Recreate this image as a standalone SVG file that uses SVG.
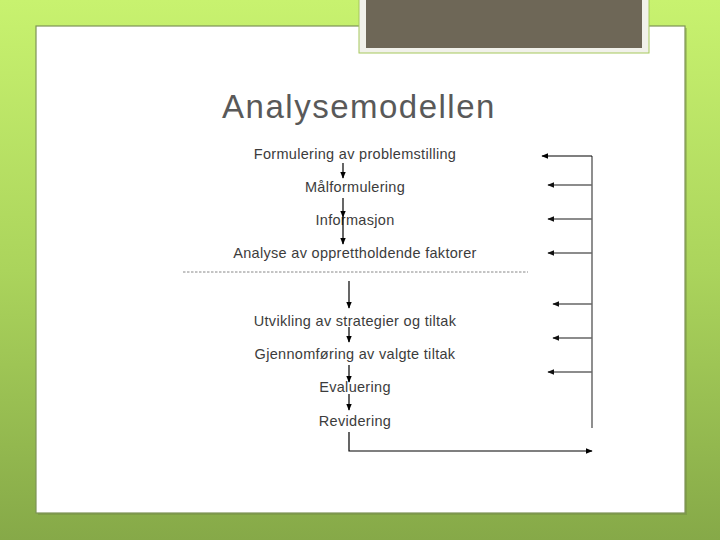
<svg xmlns="http://www.w3.org/2000/svg" width="720" height="540" viewBox="0 0 720 540">
<defs>
<linearGradient id="bg" x1="0" y1="0" x2="0" y2="1">
<stop offset="0" stop-color="#c8f26f"/>
<stop offset="0.5" stop-color="#abd45c"/>
<stop offset="1" stop-color="#86a948"/>
</linearGradient>
<marker id="ah" viewBox="0 0 10 10" refX="9" refY="5" markerWidth="7" markerHeight="7" markerUnits="userSpaceOnUse" orient="auto">
<path d="M0,1 L10,5 L0,9 z" fill="#000"/>
</marker>
<marker id="ahg" viewBox="0 0 10 10" refX="9" refY="5" markerWidth="7" markerHeight="7" markerUnits="userSpaceOnUse" orient="auto">
<path d="M0,1 L10,5 L0,9 z" fill="#111"/>
</marker>
</defs>
<style>
.t{font-family:"Liberation Sans",Arial,sans-serif;font-size:14.5px;letter-spacing:0.3px;fill:#3c3c3c;text-anchor:middle}
.title{font-family:"Liberation Sans",Arial,sans-serif;font-size:33px;letter-spacing:1.5px;fill:#595959;text-anchor:middle}
.fl{stroke:#000;stroke-width:1.2;fill:none}
.fb{stroke:#666;stroke-width:1.6;fill:none}
</style>
<rect x="0" y="0" width="720" height="540" fill="url(#bg)"/>
<rect x="38" y="28" width="649" height="487" fill="#6b8040" opacity="0.35"/>
<rect x="36" y="26" width="649" height="487" fill="#fff" stroke="#7d9356" stroke-width="1.2"/>
<g id="header-box">
<rect x="359" y="-2" width="290" height="55" fill="#f1f1ea" stroke="#a6c85c" stroke-width="1"/>
<rect x="366" y="-2" width="276" height="50" fill="#6e6757"/>
</g>
<g id="title"><text class="title" x="359" y="118">Analysemodellen</text></g>
<g id="n1"><text class="t" x="355" y="159">Formulering av problemstilling</text></g>
<g id="n2"><text class="t" x="355" y="192">Målformulering</text></g>
<g id="n3"><text class="t" x="355" y="225">Informasjon</text></g>
<g id="n4"><text class="t" x="355" y="258">Analyse av opprettholdende faktorer</text></g>
<g id="divider"><line x1="183" y1="272" x2="528" y2="272" stroke="#888" stroke-width="1" stroke-dasharray="2.5,1.5"/></g>
<g id="n5"><text class="t" x="355" y="326">Utvikling av strategier og tiltak</text></g>
<g id="n6"><text class="t" x="355" y="359">Gjennomføring av valgte tiltak</text></g>
<g id="n7"><text class="t" x="355" y="392">Evaluering</text></g>
<g id="n8"><text class="t" x="355" y="426">Revidering</text></g>
<g id="connectors">
<line class="fl" x1="343" y1="163" x2="343" y2="178" marker-end="url(#ah)"/>
<line class="fl" x1="343" y1="198" x2="343" y2="217" marker-end="url(#ah)"/>
<line class="fl" x1="343" y1="217" x2="343" y2="244" marker-end="url(#ah)"/>
<line class="fl" x1="349" y1="281" x2="349" y2="308" marker-end="url(#ah)"/>
<line class="fl" x1="349" y1="327" x2="349" y2="342" marker-end="url(#ah)"/>
<line class="fl" x1="349" y1="365" x2="349" y2="382" marker-end="url(#ah)"/>
<line class="fl" x1="349" y1="394" x2="349" y2="410" marker-end="url(#ah)"/>
<polyline class="fl" points="349,432 349,451 592,451" marker-end="url(#ah)"/>
<line x1="592" y1="156" x2="592" y2="428" stroke="#444" stroke-width="1.2"/>
<line class="fl" x1="592" y1="156" x2="542" y2="156" marker-end="url(#ah)"/>
<line class="fb" x1="592" y1="185" x2="548" y2="185" marker-end="url(#ahg)"/>
<line class="fb" x1="592" y1="219" x2="548" y2="219" marker-end="url(#ahg)"/>
<line class="fb" x1="592" y1="253" x2="548" y2="253" marker-end="url(#ahg)"/>
<line class="fb" x1="592" y1="304" x2="553" y2="304" marker-end="url(#ahg)"/>
<line class="fb" x1="592" y1="338" x2="553" y2="338" marker-end="url(#ahg)"/>
<line class="fb" x1="592" y1="372" x2="548" y2="372" marker-end="url(#ahg)"/>
</g>
</svg>
